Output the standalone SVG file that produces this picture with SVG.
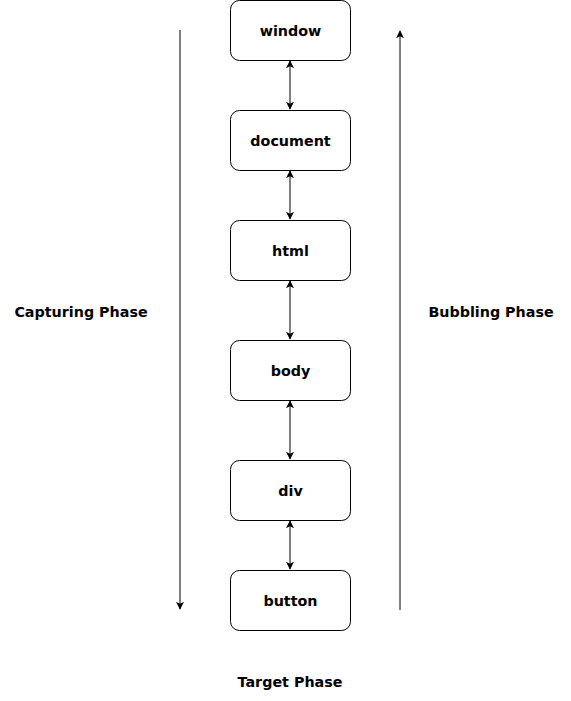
<svg xmlns="http://www.w3.org/2000/svg" width="571" height="701" viewBox="0 0 571 701">
<defs>
<style>
.node rect{fill:#fff;stroke:#000;stroke-width:1}
text{font-family:"DejaVu Sans",Verdana,sans-serif;font-weight:bold;font-size:14.3px;fill:#000;text-anchor:middle;dominant-baseline:central}
.conn line{stroke:#000;stroke-width:1}
</style>
<marker id="ah" viewBox="0 0 10 10" refX="9" refY="5" markerWidth="8" markerHeight="8" markerUnits="userSpaceOnUse" orient="auto-start-reverse">
<path d="M0,0 L10,5 L0,10 L2.5,5 Z" fill="#000"/>
</marker>
</defs>
<rect width="571" height="701" fill="#fff"/>
<g class="conn">
<line x1="290" y1="61" x2="290" y2="109" marker-start="url(#ah)" marker-end="url(#ah)"/>
<line x1="290" y1="171" x2="290" y2="219" marker-start="url(#ah)" marker-end="url(#ah)"/>
<line x1="290" y1="281" x2="290" y2="339" marker-start="url(#ah)" marker-end="url(#ah)"/>
<line x1="290" y1="401" x2="290" y2="459" marker-start="url(#ah)" marker-end="url(#ah)"/>
<line x1="290" y1="521" x2="290" y2="569" marker-start="url(#ah)" marker-end="url(#ah)"/>
<line x1="180" y1="30" x2="180" y2="609" marker-end="url(#ah)"/>
<line x1="400" y1="610" x2="400" y2="31" marker-end="url(#ah)"/>
</g>
<g id="window" class="node"><rect x="230.5" y="0.5" width="120" height="60" rx="9"/><text x="290.5" y="31">window</text></g>
<g id="document" class="node"><rect x="230.5" y="110.5" width="120" height="60" rx="9"/><text x="290.5" y="141">document</text></g>
<g id="html" class="node"><rect x="230.5" y="220.5" width="120" height="60" rx="9"/><text x="290.5" y="251">html</text></g>
<g id="body" class="node"><rect x="230.5" y="340.5" width="120" height="60" rx="9"/><text x="290.5" y="371">body</text></g>
<g id="div" class="node"><rect x="230.5" y="460.5" width="120" height="60" rx="9"/><text x="290.5" y="491">div</text></g>
<g id="button" class="node"><rect x="230.5" y="570.5" width="120" height="60" rx="9"/><text x="290.5" y="601">button</text></g>
<g id="capturing"><text x="81" y="312">Capturing Phase</text></g>
<g id="bubbling"><text x="491" y="312">Bubbling Phase</text></g>
<g id="target"><text x="290" y="682">Target Phase</text></g>
</svg>
